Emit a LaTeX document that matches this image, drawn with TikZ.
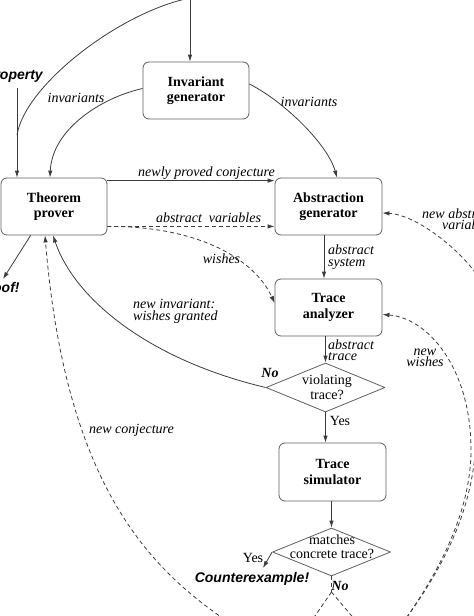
\documentclass[tikz,border=0pt]{standalone}
\usepackage{fontspec}
\setmainfont{Liberation Serif}
\newfontfamily\hvfont{Liberation Sans}
\usetikzlibrary{arrows.meta,calc,shapes.geometric}
\definecolor{ln}{RGB}{60,60,60}
\definecolor{bx}{RGB}{95,95,95}
\begin{document}
\begin{tikzpicture}[x=1pt,y=-1pt,line join=round,
  box/.style={draw=bx,line width=0.8pt,rounded corners=6pt,minimum width=107pt,minimum height=57pt,inner sep=0pt,align=center,font=\fontsize{14}{15.5}\selectfont\bfseries},
  dia/.style={draw=bx,line width=0.8pt,shape=diamond,minimum width=119pt,minimum height=49pt,inner sep=0pt},
  diatext/.style={align=center,inner sep=0pt,font=\fontsize{14}{14.5}\selectfont},
  lab/.style={inner sep=0pt,font=\fontsize{14}{11.5}\selectfont\itshape},
  yn/.style={inner sep=0pt,font=\fontsize{14}{14}\selectfont\bfseries\itshape},
  plain/.style={inner sep=0pt,font=\fontsize{14}{14}\selectfont},
  sanslab/.style={inner sep=0pt,font=\fontsize{14}{14}\selectfont\hvfont\bfseries\itshape},
  conn/.style={draw=ln,line width=0.8pt},
  arr/.style={conn,-{Latex[length=7pt,width=4.5pt]}},
  dsh/.style={conn,dash pattern=on 4pt off 3pt},
  darr/.style={dsh,-{Latex[length=7pt,width=4.5pt]}}]
\useasboundingbox (0,0) rectangle (474,616);
\clip (0,0) rectangle (474,616);

% boxes
\node[box,minimum width=106pt] (ig) at (196,90.5) {Invariant\\generator};
\node[box,minimum width=106pt] (tp) at (54,206.5) {Theorem\\prover};
\node[box] (ag) at (328.5,206.5) {Abstraction\\generator};
\node[box] (ta) at (328.5,307.5) {Trace\\analyzer};
\node[box,minimum height=58pt] (ts) at (332.5,472) {Trace\\simulator};
\node[dia] (vt) at (325.5,387.5) {};
\node[diatext] (vtt) at (327,387) {violating\\trace?};
\node[dia,minimum width=118pt,minimum height=48pt] (md) at (331.5,552) {};
\node[diatext] (mdt) at (332,546.5) {matches\\concrete trace?};

% outer labels
\node[sanslab] (prop) at (14,76) {Property};
\node[sanslab] (proof) at (-1,287) {Proof!};
\node[sanslab] (cex) at (252,579) {Counterexample!};

% edge labels
\node[lab] (l1) at (76,98) {invariants};
\node[lab] (l2) at (309,102) {invariants};
\node[lab] (l3) at (206.5,173) {newly proved conjecture};
\node[lab] (l4) at (208.5,218) {abstract\ \ variables};
\node[lab] (l5) at (221.5,259) {wishes};
\node[lab,align=left,anchor=west] (l6) at (328,257) {abstract\\system};
\node[lab,align=left,anchor=west] (l7) at (328,350) {abstract\\trace};
\node[lab,align=left,anchor=west] (l8) at (133,311.5) {new invariant:\\wishes granted};
\node[lab] (l9) at (131.5,430) {new conjecture};
\node[lab,align=center] (l10) at (425,358) {new\\wishes};
\node[lab,align=right,anchor=west] (l11) at (422,219) {new abstract\\variables};
\node[yn] (no1) at (270,373) {No};
\node[plain] (yes1) at (340,421) {Yes};
\node[plain] (yes2) at (253,558) {Yes};
\node[yn] (no2) at (340,586) {No};

% coordinates for free ends
\coordinate (top) at (190,-20);
\coordinate (br) at (190,-2);
\coordinate (pl) at (17,88);
\coordinate (ax) at (324,0);
\coordinate (pfa) at (3,279);
\coordinate (cexa) at (263,568);
\coordinate (nob) at (331.5,592);
\coordinate (offA) at (295,645);
\coordinate (offB) at (372,640);
\coordinate (ncs) at (290,660);
\coordinate (rcs) at (390,640);

% solid connectors
\draw[arr] (top) -- (top |- ig.north);
\draw[conn] (br) .. controls (120,12) and (25,85) .. (17,135);
\draw[arr] (pl) -- (pl |- tp.north);
\draw[arr] ($(ig.west)+(0,-2)$) .. controls (100,98) and (52,130) .. ($(tp.north)+(-4,0)$);
\draw[arr] ($(ig.east)+(0,-6.5)$) .. controls (285,102) and (328,145) .. ($(ag.north)+(8.5,0)$);
\draw[arr] ($(tp.north east)+(0,3)$) -- ($(ag.north west)+(0,3)$);
\draw[arr] (ag.south -| ax) -- (ta.north -| ax);
\draw[arr] (ta.south -| vt.north) -- (vt.north);
\draw[arr] (vt.south) -- (vt.south |- ts.north);
\draw[arr] (ts.south -| md.north) -- (md.north);
\draw[arr] (vt.west) .. controls (150,360) and (75,300) .. ($(tp.south)+(-1,0)$);
\draw[arr] ($(tp.south west)+(30,0)$) -- (pfa);
\draw[arr] (md.west) -- (cexa);

% dashed connectors
\draw[darr] ($(tp.south east)+(0,-9)$) -- ($(ag.south west)+(0,-9)$);
\draw[darr] ($(tp.south east)+(0,-9)$) .. controls (200,226) and (255,260) .. ($(ta.west)+(0,-4.5)$);
\draw[dsh] (md.south) -- (nob);
\draw[dsh] (nob) -- (offA);
\draw[dsh] (nob) -- (offB);
\draw[darr] (ncs) .. controls (190,600) and (70,540) .. ($(tp.south)+(-9,0)$);
\draw[darr] (rcs) .. controls (440,575) and (471,510) .. (471,450)
  .. controls (471,368) and (428,318) .. ($(ta.east)+(0,7)$);
\draw[darr] (rcs) .. controls (440,575) and (473,515) .. (476,440)
  .. controls (480,390) and (500,320) .. (483,285)
  .. controls (470,258) and (420,215) .. ($(ag.east)+(0,6.5)$);
\end{tikzpicture}
\end{document}
